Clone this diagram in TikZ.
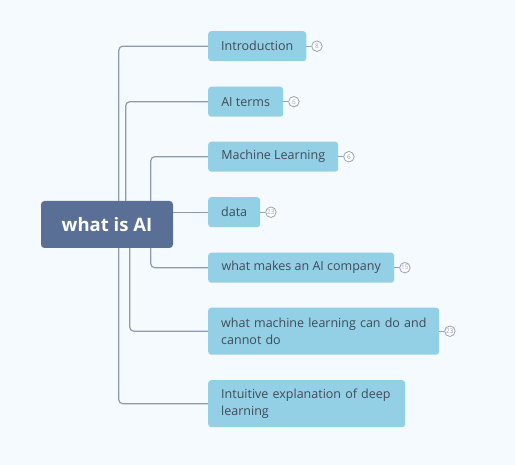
\documentclass[tikz,border=0pt]{standalone}
\usepackage{fontspec}
\setmainfont{Open Sans}
\begin{document}
\begin{tikzpicture}[x=1pt,y=-1pt,
  conn/.style={draw=connc,line width=1.2pt,rounded corners=4pt},
  rootbox/.style={fill=rootc,rounded corners=3.5pt,minimum width=132pt,minimum height=47pt,inner sep=0pt,
    text=white,font=\fontsize{18.5}{22}\selectfont\bfseries},
  child/.style={fill=childc,rounded corners=3pt,anchor=north west,inner xsep=13pt,inner ysep=0pt,
    minimum height=30pt,text=textc,font=\fontsize{12.5}{17}\selectfont,align=left},
  badge/.style={circle,draw=badgec,line width=0.8pt,fill=white,inner sep=0pt,minimum size=10.5pt,
    text=badgec,font=\fontsize{6.5}{7}\selectfont}]
\definecolor{bgc}{HTML}{F5FAFE}
\definecolor{rootc}{HTML}{5A6F96}
\definecolor{childc}{HTML}{93D0E6}
\definecolor{connc}{HTML}{8E9AAE}
\definecolor{textc}{HTML}{3F4B58}
\definecolor{badgec}{HTML}{9AA3B0}
\fill[bgc] (0,0) rectangle (515,465);
\useasboundingbox (0,0) rectangle (515,465);

\node[rootbox] (root) at (107,224.5) {what is AI};

\node[child,minimum width=98pt] (c1) at (208,31) {Introduction};
\node[child,minimum width=75pt] (c2) at (208,86.5) {AI terms};
\node[child,minimum width=130pt] (c3) at (208,141.5) {Machine Learning};
\node[child,minimum width=52pt] (c4) at (208,197) {data};
\node[child,minimum width=186pt] (c5) at (208,252.5) {what makes an AI company};
\node[child,minimum width=231pt,minimum height=47pt,text width=205pt] (c6) at (208,307.5) {\mbox{what machine learning can do and}\\cannot do};
\node[child,minimum width=197pt,minimum height=47pt,text width=171pt] (c7) at (208,380) {\mbox{Intuitive explanation of deep}\\learning};

\draw[conn] ([xshift=78pt]root.north west) |- (c1.west);
\draw[conn] ([xshift=85pt]root.north west) |- (c2.west);
\draw[conn] ([xshift=110pt]root.north west) |- (c3.west);
\draw[conn] (c4.west -| root.east) -- (c4.west);
\draw[conn] ([xshift=110pt]root.south west) |- (c5.west);
\draw[conn] ([xshift=89pt]root.south west) |- (c6.west);
\draw[conn] ([xshift=78pt]root.south west) |- (c7.west);

\node[badge] (b1) at ([xshift=10.5pt]c1.east) {8};
\node[badge] (b2) at ([xshift=10.5pt]c2.east) {6};
\node[badge] (b3) at ([xshift=10.5pt]c3.east) {6};
\node[badge] (b4) at ([xshift=10.5pt]c4.east) {23};
\node[badge] (b5) at ([xshift=10.5pt]c5.east) {15};
\node[badge] (b6) at ([xshift=10.5pt]c6.east) {23};
\foreach \i in {1,...,6} \draw[draw=badgec,line width=0.8pt] (c\i.east) -- (b\i.west);
\end{tikzpicture}
\end{document}
